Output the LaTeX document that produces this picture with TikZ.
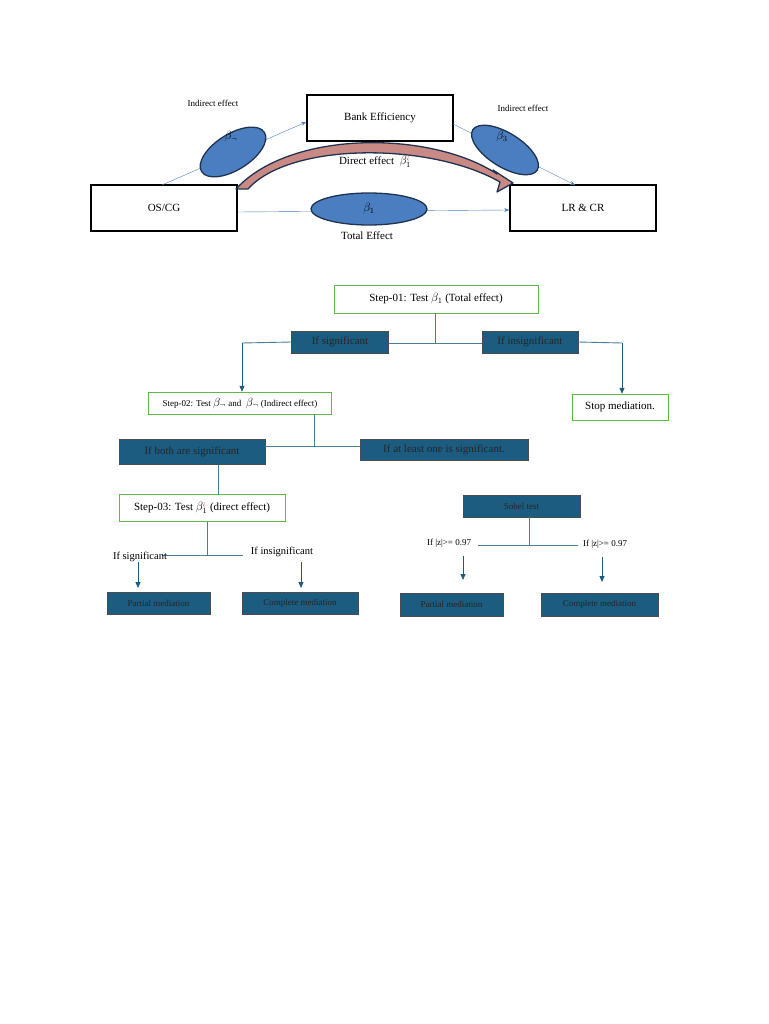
\documentclass[tikz,border=0pt]{standalone}
\usepackage{fontspec}
\setmainfont{Liberation Serif}
\usetikzlibrary{arrows.meta,shapes.geometric}
\definecolor{teal1}{HTML}{1B5C80}
\definecolor{ell}{HTML}{4A7EC0}
\definecolor{ln}{HTML}{4A7EC0}
\definecolor{gr}{HTML}{5DBB46}
\definecolor{pink1}{HTML}{C98A86}
\definecolor{navy}{HTML}{1F3350}
\newcommand{\qm}{^{\textcolor{red}{\mbox{\fontsize{6}{6}\selectfont ¿}}}}
\begin{document}
\begin{tikzpicture}[x=1pt,y=-1pt,
  bx/.style={draw=black,line width=1.5pt,minimum width=146pt,minimum height=46pt,font=\fontsize{11}{13}\selectfont},
  el/.style={ellipse,draw=navy,line width=1.3pt,fill=ell},
  ar/.style={draw=ln,-{Stealth[length=5pt]}},
  gb/.style={draw=gr,fill=white,font=\fontsize{11}{13}\selectfont,inner sep=2pt},
  tb/.style={draw=black!70,fill=teal1,text=black!85,font=\fontsize{11}{13}\selectfont,inner sep=0pt},
  fl/.style={draw=teal1!80,line width=0.9pt},
  fa/.style={draw=teal1,line width=0.8pt,-{Triangle[length=6pt,width=5pt]}},
  lb/.style={font=\fontsize{9}{11}\selectfont}]
\useasboundingbox (0,0) rectangle (768,1024);
% top diagram
\node[bx] (os) at (164,208) {OS/CG};
\node[bx] (be) at (380,118) {Bank Efficiency};
\node[bx] (lr) at (583,208) {LR \& CR};
\coordinate (s2) at (162,185);
\coordinate (e3) at (453,124);
\coordinate (t3) at (575,185);
\draw[ar] (s2) -- (be.west |- 0,122);
\draw[ar] (e3) -- (t3);
\draw[ar] (os.east |- 0,212) -- (lr.west |- 0,210);
\node[el,minimum width=74pt,minimum height=36pt,rotate=32] (b2) at (233,152) {};
\node[font=\large] at (231,137) {$\beta_{\neg}$};
% curved arrow
\draw[navy,line width=1.3pt,fill=pink1,line join=round]
  (236,189) .. controls (290,130) and (430,130) .. (497,174)
  -- (493,170) -- (513,183) -- (497,192) -- (500,182)
  .. controls (430,142) and (290,142) .. (248,189) -- cycle;
\node[el,minimum width=76pt,minimum height=34pt,rotate=-32] (b3) at (505,150) {};
\node[font=\large] at (502,137) {$\beta_{3}$};
\node[el,minimum width=116pt,minimum height=32pt,font=\large] (b1) at (369,209) {$\beta_1$};
\node[lb] at (213,103) {Indirect effect};
\node[lb] at (523,108) {Indirect effect};
\node[font=\fontsize{11}{13}\selectfont] (de) at (375,162) {Direct effect\ \ {\large$\beta_1\qm$}};
\node[font=\fontsize{11}{13}\selectfont] at (367,236) {Total Effect};
% flowchart
\node[gb,minimum width=204pt,minimum height=28pt] (s1) at (436,299) {Step-01: Test {\large$\beta_1$} (Total effect)};
\node[tb,minimum width=97pt,minimum height=22pt] (is) at (340,342) {If significant};
\node[tb,minimum width=96pt,minimum height=22pt] (ii) at (530,342) {If insignificant};
\coordinate (j1) at (435,343);
\draw[fl] (s1.south -| j1) -- (j1);
\draw[fl] (is.east |- j1) -- (ii.west |- j1);
\node[gb,minimum width=183pt,minimum height=22pt,font=\fontsize{9}{10}\selectfont] (s2b) at (240,403) {Step-02: Test {\large$\beta_{\neg}$} and\ \ {\large$\beta_{\neg}$} (Indirect effect)};
\node[gb,minimum width=96pt,minimum height=26pt] (sm) at (620,407) {Stop mediation.};
\draw[fl] (is.west) -- (242,343);
\draw[fa] (242,343) -- (s2b.north -| 242,0);
\draw[fl] (ii.east) -- (622,343);
\draw[fa] (622,343) -- (sm.north -| 622,0);
\node[tb,minimum width=146pt,minimum height=25pt] (bs) at (192,452) {If both are significant};
\node[tb,minimum width=168pt,minimum height=21pt] (al) at (444,450) {If at least one is significant.};
\coordinate (j2) at (314,446);
\draw[fl] (s2b.south -| j2) -- (j2);
\draw[fl] (bs.east |- j2) -- (al.west |- j2);
\node[gb,minimum width=166pt,minimum height=27pt] (s3) at (202,508) {Step-03: Test {\large$\beta_1\qm$} (direct effect)};
\draw[fl] (bs.south -| 218,0) -- (s3.north -| 218,0);
\coordinate (j3) at (207,555);
\draw[fl] (s3.south -| j3) -- (j3);
\draw[fl] (162,555) -- (243,555);
\node[font=\fontsize{10.5}{12}\selectfont] (l1) at (140,557) {If significant};
\node[font=\fontsize{10.5}{12}\selectfont] (l2) at (282,552) {If insignificant};
\node[tb,minimum width=103pt,minimum height=22pt,font=\fontsize{9}{10}\selectfont] (pm1) at (158.5,603) {Partial mediation};
\node[tb,minimum width=116pt,minimum height=22pt,font=\fontsize{9}{10}\selectfont] (cm1) at (300,603) {Complete mediation};
\draw[fa] (138,562) -- (138,588);
\draw[fa] (301,562) -- (301,588);
\node[tb,minimum width=117pt,minimum height=22pt,font=\fontsize{9}{10}\selectfont] (sb) at (521.5,506) {Sobel test};
\coordinate (j4) at (529,545);
\draw[fl] (sb.south -| j4) -- (j4);
\draw[fl] (478,545) -- (578,545);
\node[lb] (z1) at (449,543) {If |z|>= 0.97};
\node[lb] (z2) at (605,544) {If |z|>= 0.97};
\draw[fa] (463,556) -- (463,580);
\draw[fa] (602,557) -- (602,582);
\node[tb,minimum width=103pt,minimum height=23pt,font=\fontsize{9}{10}\selectfont] (pm2) at (451.5,604.5) {Partial mediation};
\node[tb,minimum width=117pt,minimum height=23pt,font=\fontsize{9}{10}\selectfont] (cm2) at (599.5,604.5) {Complete mediation};
\end{tikzpicture}
\end{document}
